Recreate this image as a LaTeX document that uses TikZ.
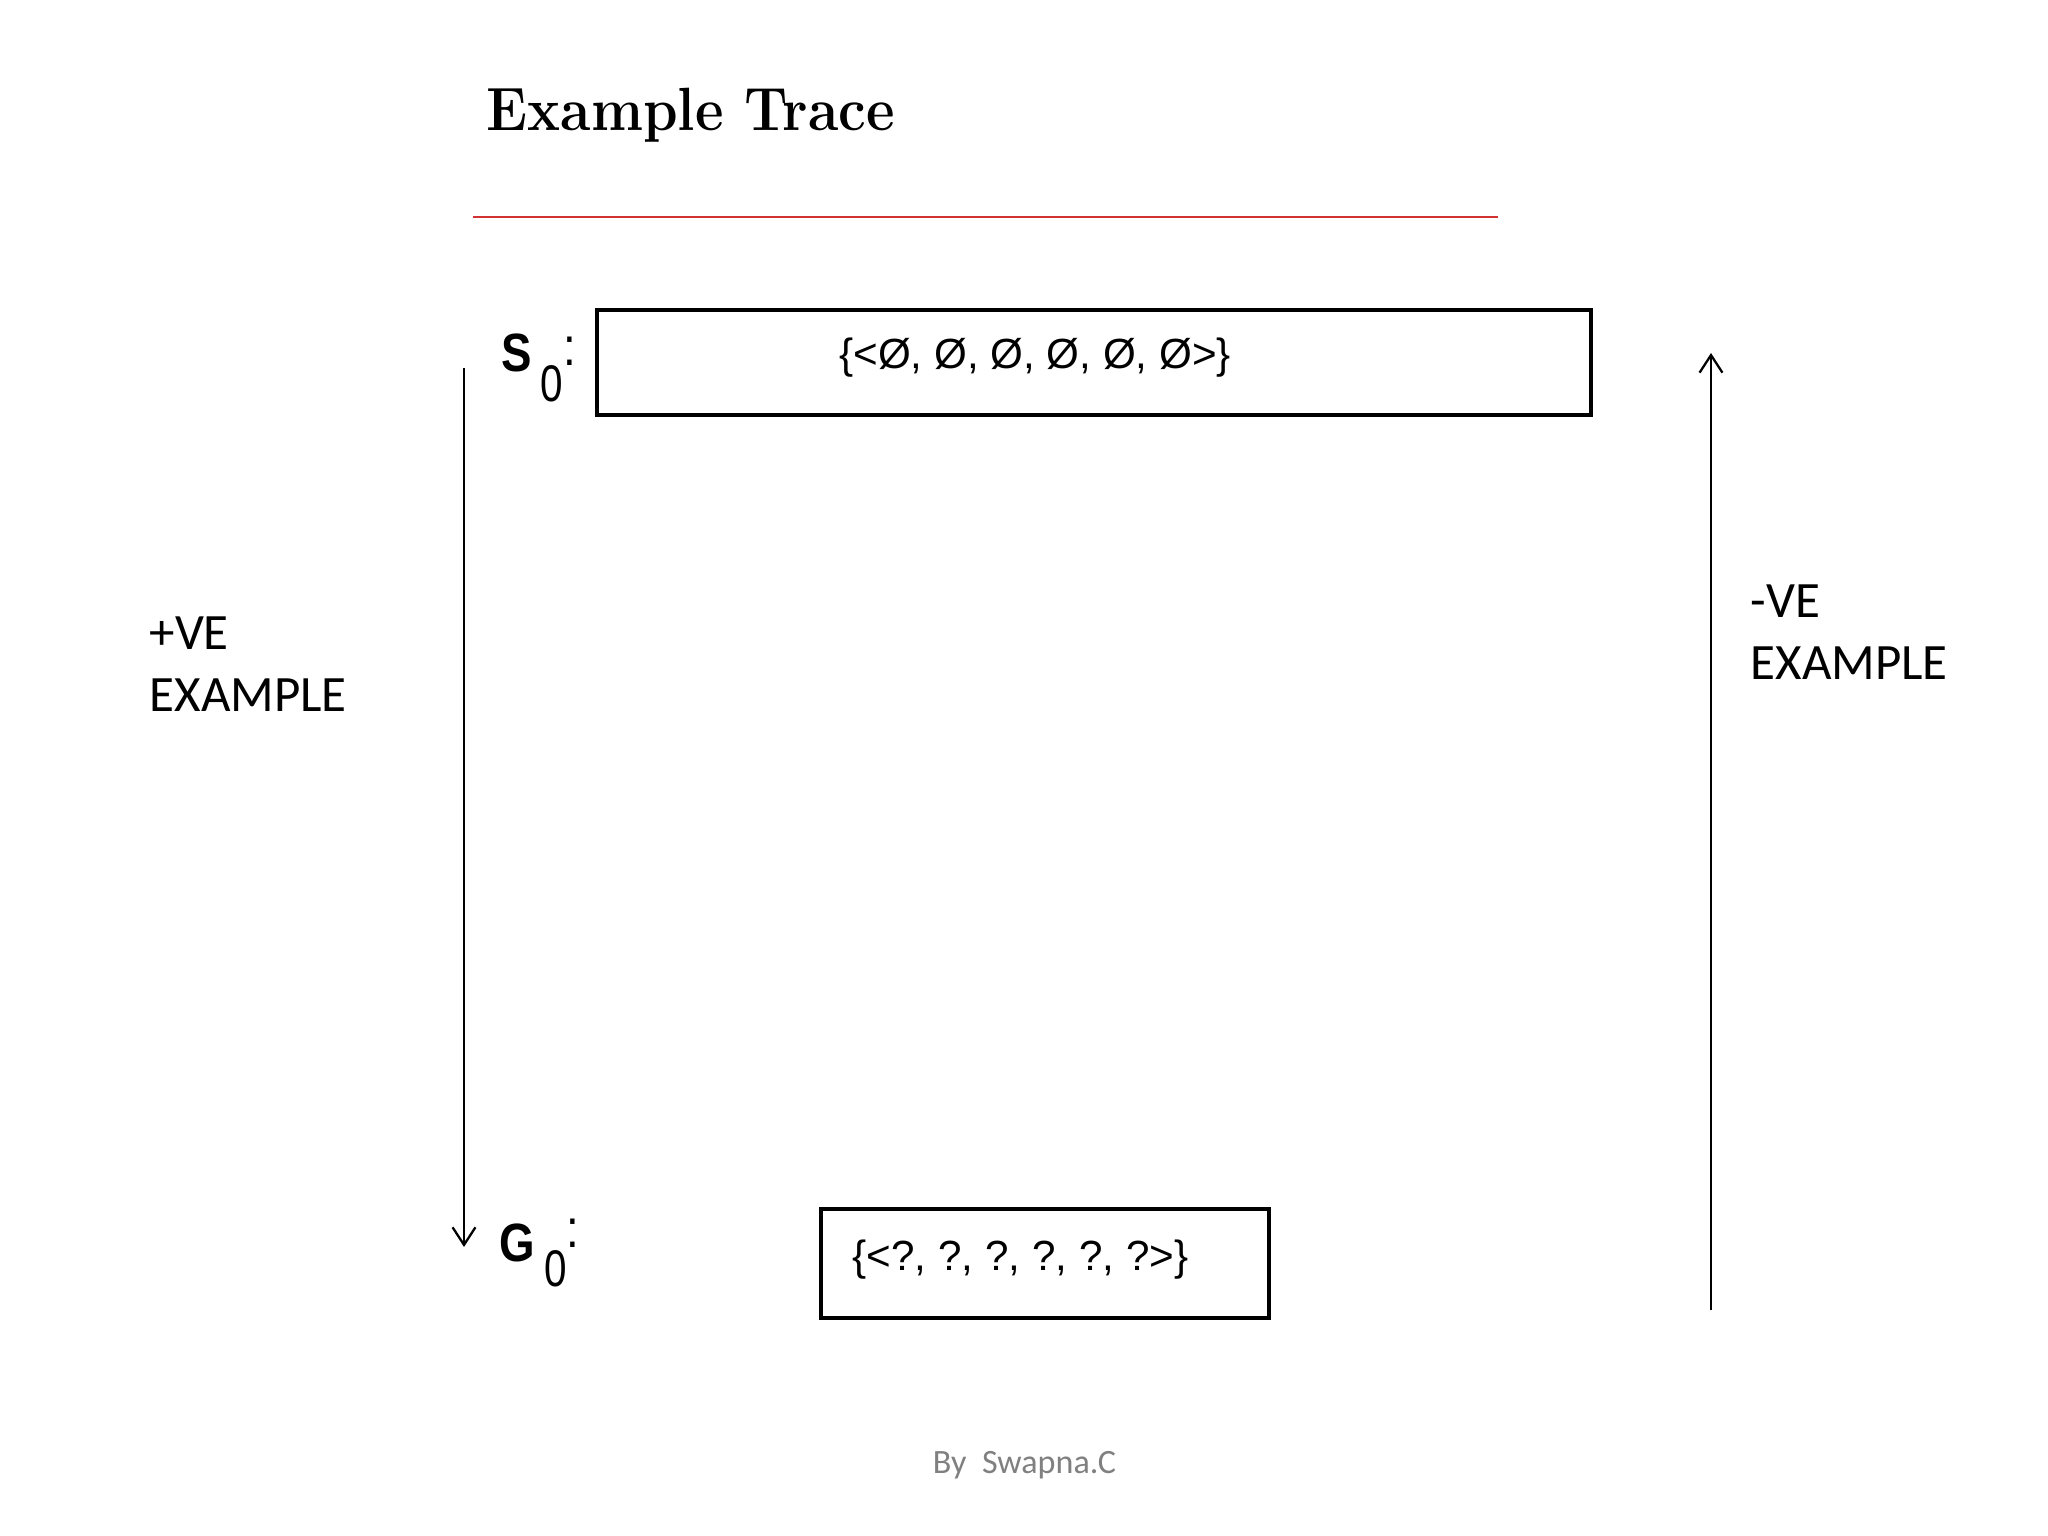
\documentclass[tikz,border=0pt]{standalone}
\usepackage{fontspec}
\usepackage{graphicx}
\usetikzlibrary{arrows.meta}
\newfontfamily\carlito{Carlito}
\newfontfamily\arialf{Liberation Sans}
\definecolor{linered}{RGB}{210,50,50}
\definecolor{footgray}{RGB}{128,128,128}

% state name with low subscript 0 and raised colon
\newcommand{\statelabel}[3]{\scalebox{1}[1.18]{\arialf\fontsize{13}{13}\selectfont\textbf{#1}\hspace{2.5pt}\raisebox{-#2}{\scalebox{1}[1.08]{\fontsize{11.5}{11.5}\selectfont 0}}\raisebox{#3}{:}}}

\tikzset{
  setbox/.style={draw, line width=1.3pt, inner sep=0pt},
  settext/.style={font=\arialf\fontsize{12}{14}\selectfont, inner sep=0pt},
  sidetext/.style={font=\carlito\fontsize{14.5}{17.6}\selectfont, align=left, inner sep=0pt, anchor=west},
  >={Straight Barb[length=5pt,width=6.5pt]},
}

\begin{document}
\begin{tikzpicture}
 \useasboundingbox (0,0) rectangle (20.48,15.36);

 \node[anchor=base west, inner sep=0pt, font=\bfseries\fontsize{15.8}{19}\selectfont] (title) at (4.86,14.05) {\scalebox{1}[1.1]{Example Trace}};
 \draw[linered, line width=0.8pt] (4.73,13.19) -- (14.98,13.19);

 % start state
 \node[setbox, minimum width=9.94cm, minimum height=1.05cm] (s0box) at (10.94,11.735) {};
 \node[settext] (s0set) at (10.35,11.78) {\{<Ø, Ø, Ø, Ø, Ø, Ø>\}};
 \node[anchor=base west, inner sep=0pt] (s0lab) at (5.01,11.64) {\statelabel{S}{7.2pt}{1.5pt}};

 % goal state
 \node[setbox, minimum width=4.48cm, minimum height=1.09cm] (g0box) at (10.45,2.725) {};
 \node[settext] (g0set) at (10.205,2.76) {\{<?, ?, ?, ?, ?, ?>\}};
 \node[anchor=base west, inner sep=0pt] (g0lab) at (4.99,2.74) {\statelabel{G}{6pt}{3.6pt}};

 \coordinate (posstart) at (4.64,11.68);
 \coordinate (posend) at (4.64,2.89);
 \draw[->, line width=0.65pt] (posstart) -- (posend);
 \coordinate (negstart) at (17.11,2.26);
 \coordinate (negend) at (17.11,11.83);
 \draw[->, line width=0.65pt] (negstart) -- (negend);

 \node[sidetext] (postext) at (1.49,8.72) {+VE\\EXAMPLE};
 \node[sidetext] (negtext) at (17.50,9.04) {-VE\\EXAMPLE};

 \node[font=\carlito\fontsize{9.7}{12}\selectfont, text=footgray, inner sep=0pt] (author) at (10.245,0.71) {By\ \ Swapna.C};
\end{tikzpicture}
\end{document}
